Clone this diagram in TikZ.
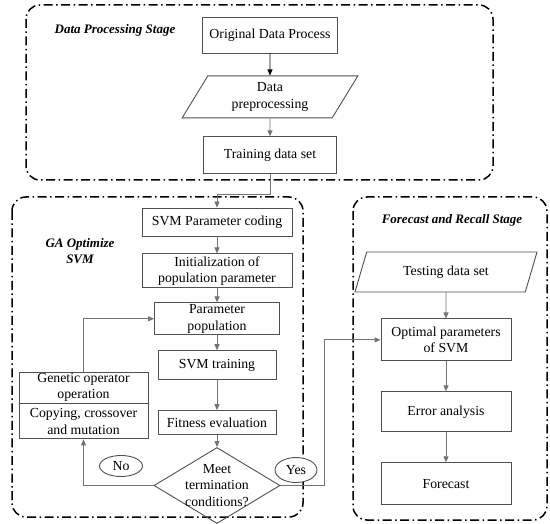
\documentclass[tikz,border=0pt]{standalone}
\usepackage{fontspec}
\setmainfont{Liberation Serif}
\usetikzlibrary{positioning,shapes.geometric,arrows.meta}
\definecolor{boxgray}{RGB}{80,80,80}
\definecolor{arrgray}{RGB}{115,115,115}

\begin{document}
\begin{tikzpicture}
                [x=1pt,y=-1pt,font=\fontsize{13.8}{16.5}\selectfont,
                box/.style={rectangle,draw=boxgray,line width=0.9pt,align=center,inner sep=1pt},
                para/.style={trapezium,trapezium stretches=true,draw=boxgray,line width=0.9pt,align=center,inner sep=1pt},
                oval/.style={ellipse,draw=boxgray,line width=0.9pt,inner sep=0pt},
                stage/.style={line width=1.5pt,rounded corners=14pt,dash pattern=on 9pt off 3.5pt on 1.5pt off 3.5pt},
                lbl/.style={font=\fontsize{13}{15.5}\selectfont\bfseries\itshape,align=center},
                arr/.style={draw=arrgray,line width=0.9pt,-{Triangle[length=6pt,width=5pt]}}]
                \useasboundingbox (0,0) rectangle (550,524);
                % stage frames
                \draw[stage] (26,5) rectangle (493,180);
                \draw[stage] (12,197) rectangle (303,517);
                \draw[stage] (353,197) rectangle (547,520);
                \node[lbl] (textdp) at (115,30) {Data Processing Stage};
                \node[lbl] (textga) at (80,251) {GA Optimize\\SVM};
                \node[lbl] (textfr) at (452,220) {Forecast and Recall Stage};
                % data processing
                \node[box,minimum width=135pt,minimum height=36pt] (orig) at (270,35) {Original Data Process};
                \node[para,trapezium left angle=62,trapezium right angle=118,minimum width=176pt,minimum height=42pt,node distance=22pt] (prep)[below=of orig]{Data\\preprocessing};
                \node[box,minimum width=133pt,minimum height=37pt,node distance=18pt] (train)[below=of prep]{Training data set};
                % GA optimize SVM
                \node[box,minimum width=150pt,minimum height=28pt] (code) at (217,222) {SVM Parameter coding};
                \node[box,minimum width=150pt,minimum height=34pt,node distance=17pt] (init)[below=of code]{Initialization of\\population parameter};
                \node[box,minimum width=125pt,minimum height=32pt,node distance=14pt] (param)[below=of init]{Parameter\\population};
                \node[box,minimum width=118pt,minimum height=29pt,node distance=15pt] (svmt)[below=of param]{SVM training};
                \node[box,minimum width=118pt,minimum height=24pt,node distance=30pt] (fit)[below=of svmt]{Fitness evaluation};
                \node[diamond,draw=boxgray,line width=0.9pt,align=center,inner sep=-14pt,minimum width=126pt,minimum height=76pt,node distance=12pt] (meet)[below=of fit]{Meet\\termination\\conditions?};
                \node[box,minimum width=129pt,minimum height=31pt] (gen) at (83.5,387.5) {Genetic operator\\operation};
                \node[box,minimum width=129pt,minimum height=35pt,node distance=0pt] (copy)[below=of gen]{Copying, crossover\\and mutation};
                \node[oval,minimum width=43pt,minimum height=21pt] (no) at (121,466) {No};
                % forecast and recall
                \node[para,trapezium left angle=66,trapezium right angle=114,minimum width=183pt,minimum height=40pt] (test) at (446,272) {Testing data set};
                \node[box,minimum width=130pt,minimum height=42pt,node distance=26pt] (opt)[below=of test]{Optimal parameters\\of SVM};
                \node[box,minimum width=130pt,minimum height=40pt,node distance=30pt] (err)[below=of opt]{Error analysis};
                \node[box,minimum width=130pt,minimum height=42pt,node distance=30pt] (fore)[below=of err]{Forecast};
                % connectors
                \draw[line width=0.9pt,-{Triangle[length=6pt,width=5pt]}] (orig) -- (prep);
                \draw[arr] (prep) -- (train);
                \draw[arr] (train.south) -- ++(0,20) -| (code.north);
                \draw[arr] (code) -- (init);
                \draw[arr] (init) -- (param);
                \draw[arr] (param) -- (svmt);
                \draw[arr] (svmt) -- (fit);
                \draw[arr] (fit) -- (meet);
                \draw[arr] (meet.west) -| (copy.south);
                \draw[arr] (gen.north) |- (param.west);
                \draw[arr] (meet.east) -- ++(44,0) |- (opt.west);
                \node[oval,fill=white,minimum width=42pt,minimum height=25pt] (yes) at (296,470) {Yes};
                \draw[arr] (test) -- (opt);
                \draw[arr] (opt) -- (err);
                \draw[arr] (err) -- (fore);
            \end{tikzpicture}
\end{document}
